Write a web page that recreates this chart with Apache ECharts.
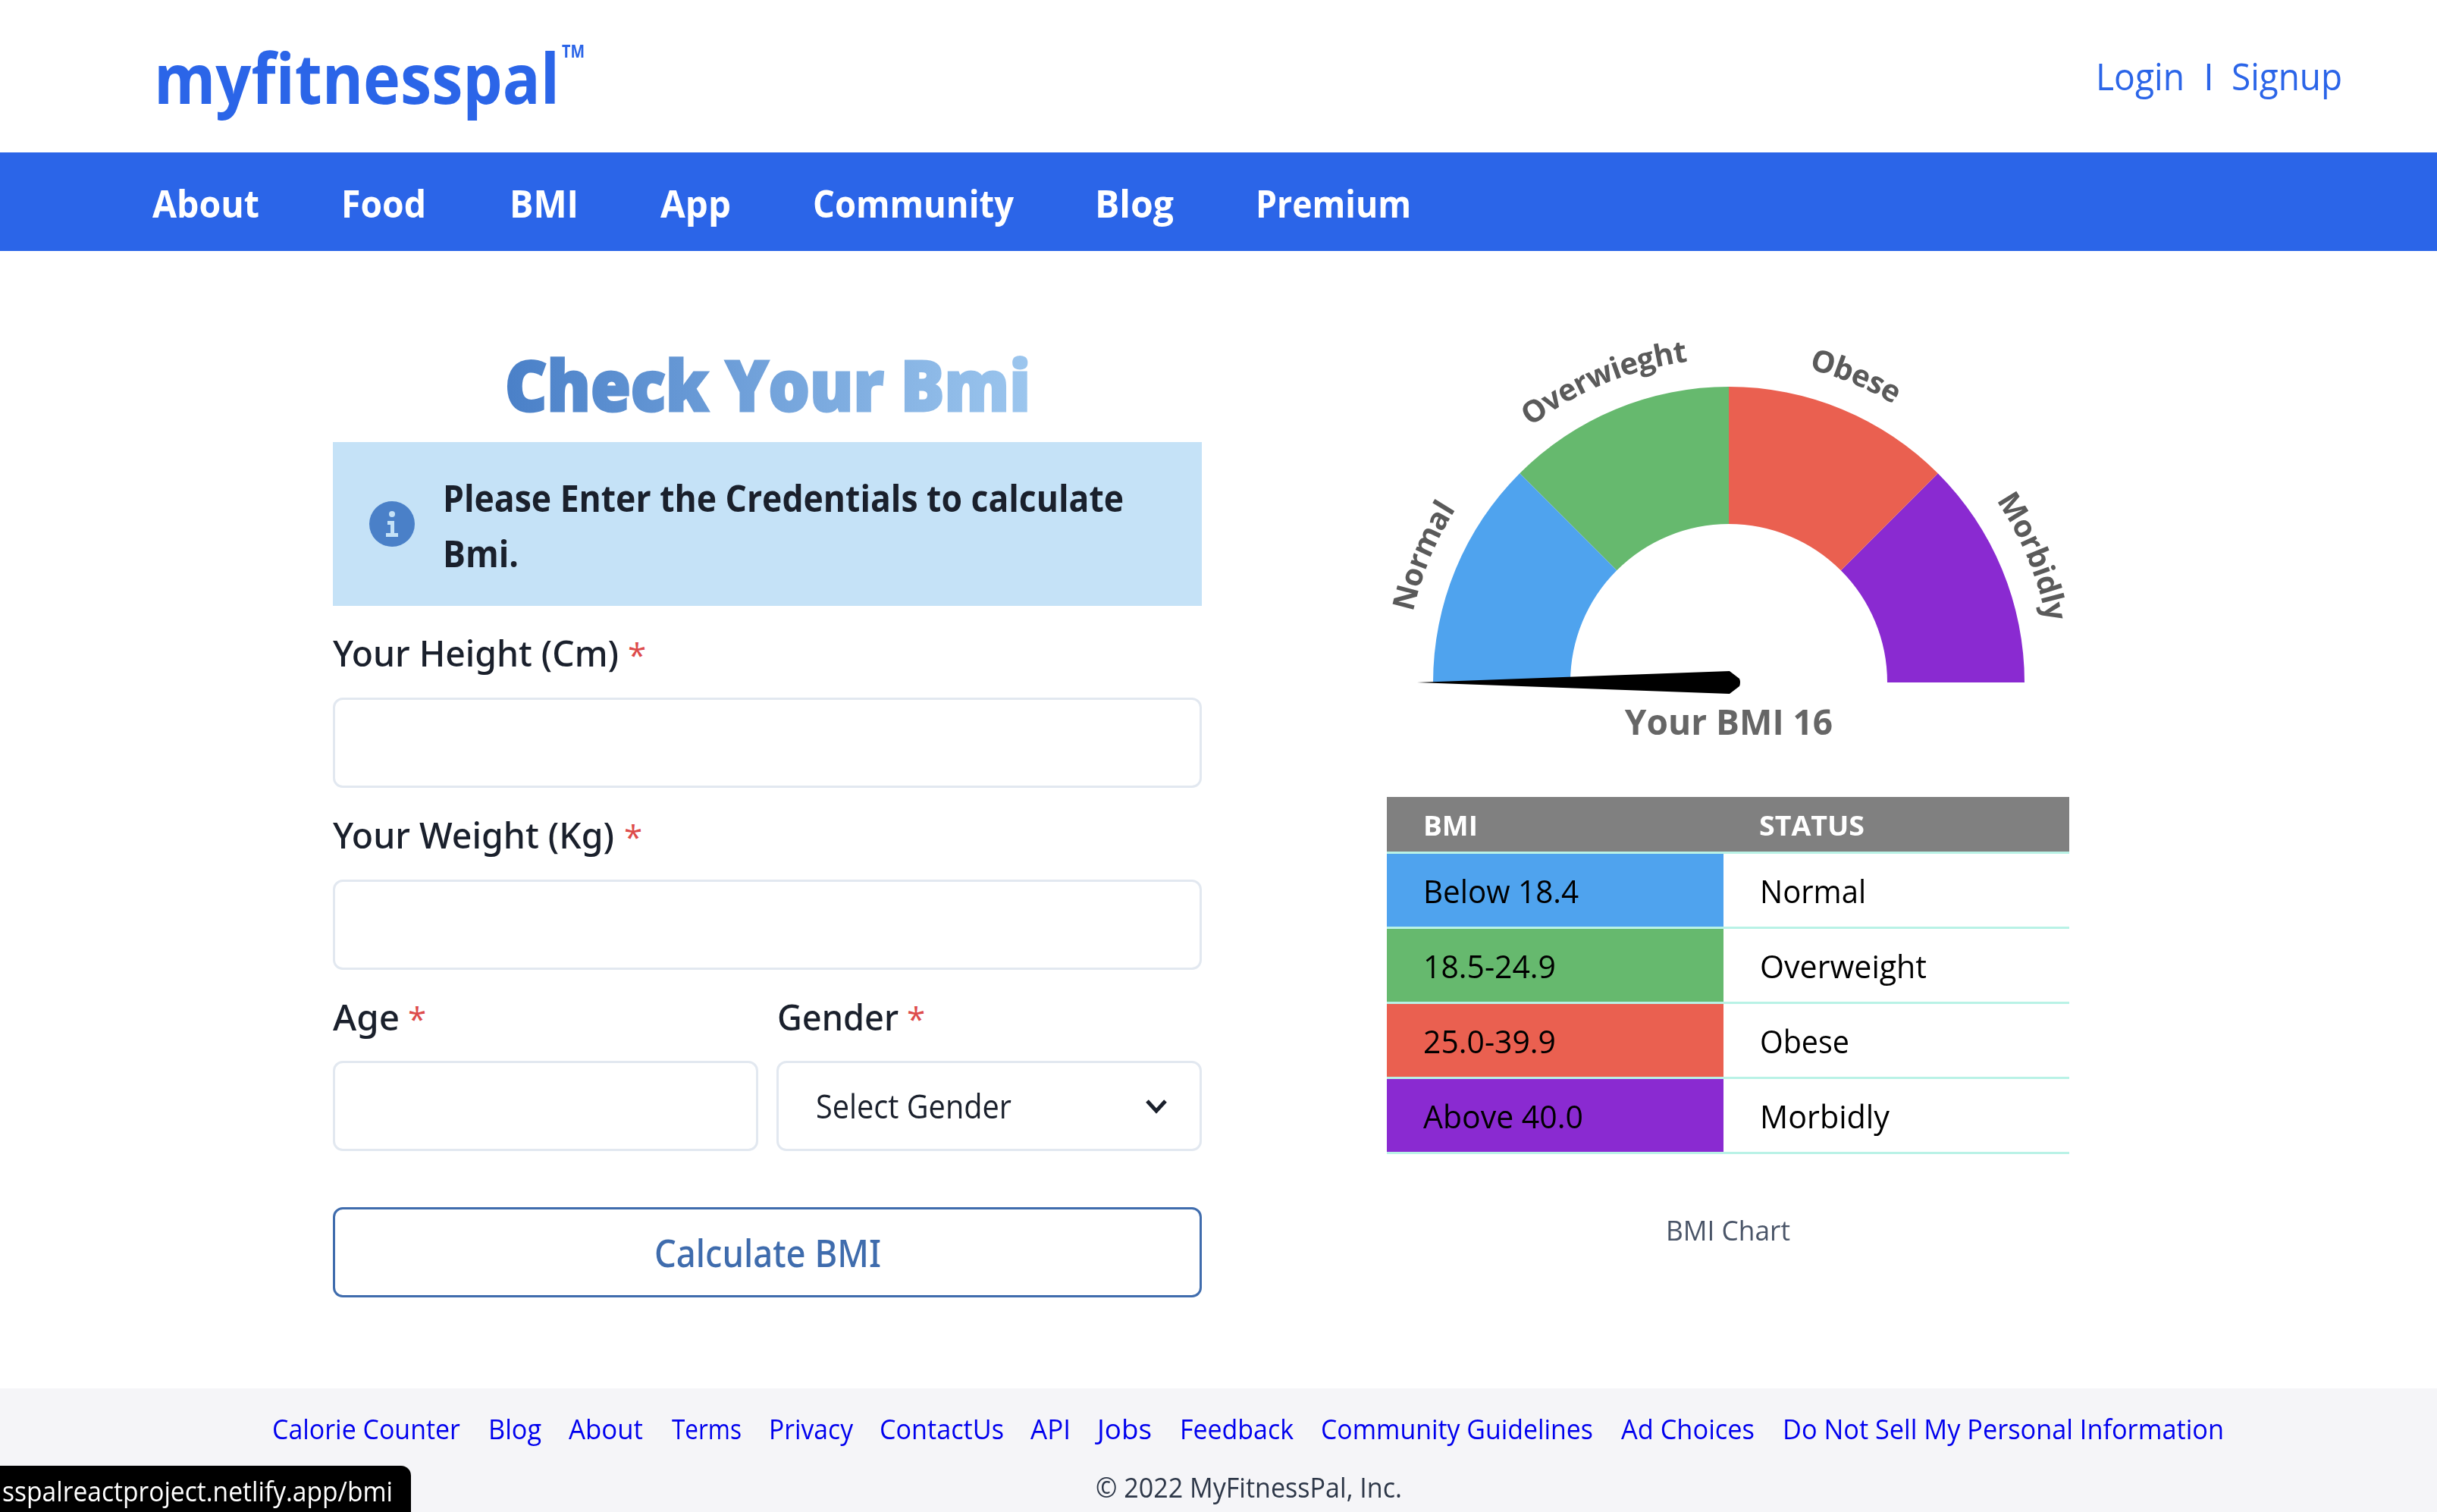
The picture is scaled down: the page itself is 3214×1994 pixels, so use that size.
<!DOCTYPE html>
<html lang="en">
<head>
<meta charset="UTF-8">
<title>MyFitnessPal BMI</title>
<script src="https://cdn.jsdelivr.net/npm/echarts@6/dist/echarts.min.js"></script>
<style>
html, body { margin: 0; padding: 0; background: #fff; overflow: hidden; }
#page { position: relative; width: 3214px; height: 1994px; overflow: hidden; font-family: "Open Sans", sans-serif; }
.box { position: absolute; box-sizing: border-box; }
.t { position: absolute; white-space: nowrap; line-height: 1em; transform-origin: left center; }
.field { border: 3px solid #e2e8f0; border-radius: 13px; background: #fff; }
#gauge { position: absolute; left: 1780px; top: 400px; width: 1000px; height: 640px; }
</style>
</head>
<body>
<div id="page">
	<div id="gauge"></div>
</div>
<script>
// gauge data
const bmiValue = 16;
const axisMin = 16;
const axisMax = 40;
const segmentNames = ['Normal', 'Overwieght', 'Obese', 'Morbidly'];
const segmentStops = [0.25, 0.5, 0.75, 1];
const segmentColors = ['#4fa3ee', '#66b96e', '#ea6050', '#8a2ad1'];

// table data
const tableHead = ['BMI', 'STATUS'];
const tableRanges = ['Below 18.4', '18.5-24.9', '25.0-39.9', 'Above 40.0'];
const tableStatus = ['Normal', 'Overweight', 'Obese', 'Morbidly'];

// page text
const navLabels = ['About', 'Food', 'BMI', 'App', 'Community', 'Blog', 'Premium'];
const footerLabels = ['Calorie Counter', 'Blog', 'About', 'Terms', 'Privacy', 'ContactUs', 'API', 'Jobs', 'Feedback',
	'Community Guidelines', 'Ad Choices', 'Do Not Sell My Personal Information'];

// layout, x and width of the text runs
const navX = [201, 450, 672, 871, 1072, 1444, 1656];
const navW = [141, 112, 91, 93, 265, 104, 205];
const footerX = [359, 644, 750, 886, 1014, 1160, 1359, 1447, 1556, 1742, 2138, 2351];
const footerW = [248, 70, 98, 92, 111, 164, 53, 72, 150, 359, 176, 582];
const rangeW = [205, 175, 175, 211];
const statusW = [140, 220, 118, 171];

const page = document.getElementById('page');

function box(x, y, w, h, css, cls) {
	let el = document.createElement('div');
	el.className = 'box ' + (cls || '');
	el.style.cssText = `left:${x}px;top:${y}px;width:${w}px;height:${h}px;${css || ''}`;
	page.appendChild(el);
	return el;
}

// x = left edge, y = baseline, w = width the run is squeezed to
function txt(text, x, y, size, weight, color, w, css) {
	let el = document.createElement('div');
	el.className = 't';
	el.textContent = text;
	el.style.cssText = `left:${x}px;top:${y - size * 0.888 + 2}px;font-size:${size}px;font-weight:${weight};color:${color};${css || ''}`;
	page.appendChild(el);
	if (w) {
		el.style.transform = `scaleX(${w / el.getBoundingClientRect().width})`;
	}
	return el;
}

const blue = '#2b65e8';
const ink = '#1a202c';
const red = '#dd4b4b';
const noto = 'font-family:"Noto Sans";';

// header
txt('myfitnesspal', 203, 136, 92, 700, blue, 535);
txt('TM', 741, 74, 23, 700, blue, 30);
txt('Login', 2764, 117, 50, 400, blue, 117);
txt('I', 2906, 117, 50, 400, blue);
txt('Signup', 2943, 117, 50, 400, blue, 146);
box(0, 201, 3214, 130, `background:${blue};`);
navLabels.forEach((name, i) => txt(name, navX[i], 285, 50, 700, '#fff', navW[i]));

// form
txt('Check Your Bmi', 666, 541, 92, 800, 'transparent', 693,
	'-webkit-text-stroke:3px transparent;background:linear-gradient(90deg,#4a80c8,#9cc6ee);-webkit-background-clip:text;background-clip:text;');
box(439, 583, 1146, 216, 'background:#c5e2f7;');
let info = box(487, 661, 60, 60);
info.innerHTML = '<svg width="60" height="60" viewBox="0 0 60 60"><circle cx="30" cy="30" r="30" fill="#4a80c8"/>' +
	'<circle cx="30" cy="17" r="4" fill="#c5e2f7"/><path d="M24 26h9v16h5v5H22v-5h6V31h-4z" fill="#c5e2f7"/></svg>';
txt('Please Enter the Credentials to calculate', 584, 674, 49, 700, ink, 898);
txt('Bmi.', 584, 747, 49, 700, ink, 100);

txt('Your Height (Cm)', 439, 878, 48, 500, ink, 377, noto);
txt('*', 828, 878, 44, 500, red);
box(439, 920, 1146, 119, '', 'field');
txt('Your Weight (Kg)', 439, 1118, 48, 500, ink, 371, noto);
txt('*', 823, 1118, 44, 500, red);
box(439, 1160, 1146, 119, '', 'field');
txt('Age', 439, 1358, 48, 500, ink, 88, noto);
txt('*', 538, 1358, 44, 500, red);
box(439, 1399, 561, 119, '', 'field');
txt('Gender', 1025, 1358, 48, 500, ink, 160, noto);
txt('*', 1196, 1358, 44, 500, red);
box(1024, 1399, 561, 119, '', 'field');
txt('Select Gender', 1076, 1473, 44, 400, ink, 258);
let chevron = box(1510, 1449, 30, 20);
chevron.innerHTML = '<svg width="30" height="20" viewBox="0 0 30 20"><path d="M3 3l12 13L27 3" fill="none" stroke="#1a202c" stroke-width="5"/></svg>';
box(439, 1592, 1146, 119, 'border:3.5px solid #3f6cad;border-radius:13px;');
txt('Calculate BMI', 863, 1669, 50, 500, '#3f6cad', 299, noto);

// table
const rowTop = [1126, 1225, 1324, 1423];
box(1829, 1051, 900, 72, 'background:#808080;');
txt(tableHead[0], 1877, 1101, 36, 700, '#fff', 72);
txt(tableHead[1], 2320, 1101, 36, 700, '#fff', 139);
box(1829, 1123, 900, 3, 'background:#b9f2e6;');
tableRanges.forEach((range, i) => {
	box(1829, rowTop[i], 444, 96, `background:${segmentColors[i]};`);
	box(1829, rowTop[i] + 96, 900, 3, 'background:#b9f2e6;');
	txt(range, 1877, rowTop[i] + 63, 42, 400, '#000', rangeW[i]);
	txt(tableStatus[i], 2321, rowTop[i] + 63, 42, 400, '#000', statusW[i]);
});
txt('BMI Chart', 2197, 1635, 36, 400, '#4a5568', 164);

// footer
box(0, 1831, 3214, 163, 'background:#f5f5f8;');
footerLabels.forEach((name, i) => txt(name, footerX[i], 1897, 36, 400, '#0000ee', footerW[i]));
txt('© 2022 MyFitnessPal, Inc.', 1445, 1974, 36, 400, '#2d3748', 404);
box(-4, 1933, 546, 70, 'background:#000;border-radius:0 13px 0 0;');
txt('sspalreactproject.netlify.app/bmi', 3, 1978, 37, 400, '#fff', 515);

// gauge
const gaugeCenter = [500, 500];
const arcRadius = 390;
const labelRadius = 438;
const labelFont = 'bold 40px "Open Sans"';

// segment names follow the arc, one glyph at a time
function arcLabels() {
	let ctx = document.createElement('canvas').getContext('2d');
	ctx.font = labelFont;
	let out = [];
	segmentNames.forEach((name, s) => {
		let mid = Math.PI - (s + 0.5) * Math.PI / segmentNames.length;
		let total = ctx.measureText(name).width;
		let run = 0;
		name.split('').forEach(ch => {
			let w = ctx.measureText(ch).width;
			let a = mid + (total / 2 - run - w / 2) / labelRadius;
			run += w;
			out.push({
				type: 'text',
				x: gaugeCenter[0] + labelRadius * Math.cos(a),
				y: gaugeCenter[1] - labelRadius * Math.sin(a),
				rotation: a - Math.PI / 2,
				style: { text: ch, font: labelFont, fill: '#5a5a5a', textAlign: 'center', textVerticalAlign: 'middle' }
			});
		});
	});
	return out;
}

let myChart = echarts.init(document.getElementById('gauge'));
myChart.setOption({
	animation: false,
	graphic: arcLabels(),
	series: [{
		type: 'gauge',
		center: gaugeCenter,
		radius: arcRadius,
		startAngle: 180,
		endAngle: 0,
		min: axisMin,
		max: axisMax,
		axisLine: {
			lineStyle: {
				width: 181,
				color: segmentStops.map((stop, i) => [stop, segmentColors[i]])
			}
		},
		axisTick: { show: false },
		splitLine: { show: false },
		axisLabel: { show: false },
		pointer: {
			icon: 'path://M15 0 L30 411 L20 424 Q15 426 10 424 L0 411 Z',
			length: 426,
			width: 30,
			offsetCenter: [0, 15],
			itemStyle: { color: '#000' }
		},
		anchor: { show: false },
		title: { show: false },
		detail: {
			offsetCenter: [0, 56],
			formatter: 'Your BMI {value}',
			fontFamily: 'Open Sans',
			fontSize: 46,
			fontWeight: 'bold',
			color: '#666'
		},
		data: [{ value: bmiValue }]
	}]
});
</script>
</body>
</html>
